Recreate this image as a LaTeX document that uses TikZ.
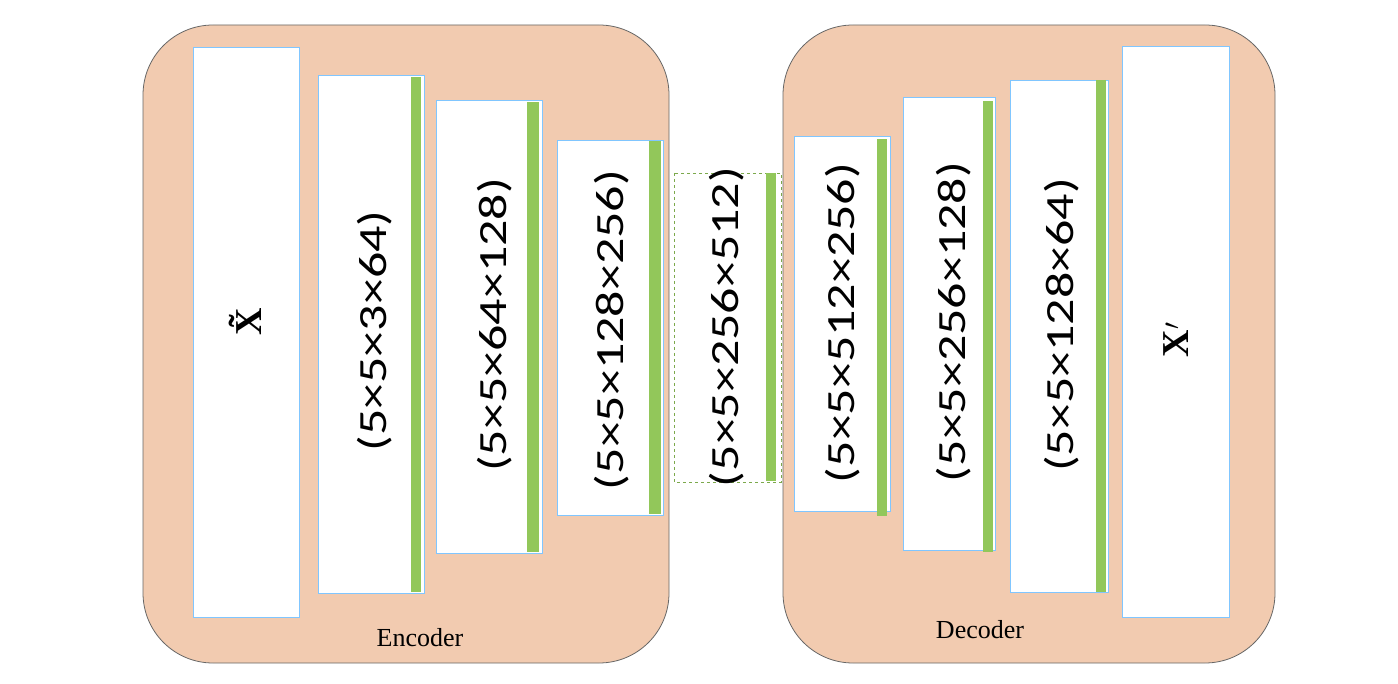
\documentclass[tikz,border=0pt]{standalone}
\usepackage{fontspec}
\setmainfont{Liberation Serif}
\newfontfamily\labfont{Carlito}
\begin{document}
\begin{tikzpicture}[x=1pt,y=-1pt,
  block/.style={draw=gray!80!black,fill=peach,rounded corners=70pt,line width=0.8pt},
  layer/.style={draw=blue!45!cyan!50,fill=white,line width=0.6pt},
  bar/.style={fill=leaf,draw=none},
  lbl/.style={rotate=90,font=\labfont\fontsize{40}{42}\selectfont},
  sym/.style={rotate=90,font=\bfseries\fontsize{38}{40}\selectfont}]
\definecolor{peach}{HTML}{F2CBB0}
\definecolor{leaf}{HTML}{92C75A}
\newcommand\stretchlab[1]{\scalebox{1.3}[1]{#1}}
\useasboundingbox (0,0) rectangle (1398,684);
% encoder / decoder frames
\draw[block] (143,25) rectangle (669,663);
\draw[block] (783,25) rectangle (1275,663);
\node[font=\fontsize{26}{28}\selectfont] (enc) at (420,638) {Encoder};
\node[font=\fontsize{26}{28}\selectfont] (dec) at (980,630) {Decoder};
% encoder layers
\draw[layer] (193,47) rectangle (299,617);
\draw[layer] (318,75) rectangle (424,593);
\fill[bar] (411,77) rectangle (421,592);
\draw[layer] (436,100) rectangle (542,553);
\fill[bar] (527,102) rectangle (539,552);
\draw[layer] (557,140) rectangle (663,515);
\fill[bar] (649,141) rectangle (661,514);
% bottleneck
\draw[leaf!85!black,dashed,line width=0.8pt,fill=white] (674,173) rectangle (781,482);
\fill[bar] (766,173) rectangle (776,481);
% decoder layers
\draw[layer] (794,136) rectangle (890,511);
\fill[bar] (877,139) rectangle (887,516);
\draw[layer] (903,97) rectangle (995,550);
\fill[bar] (983,101) rectangle (993,552);
\draw[layer] (1010,80) rectangle (1108,592);
\fill[bar] (1096,80) rectangle (1106,592);
\draw[layer] (1122,46) rectangle (1229,617);
% labels
\node[sym] (xin) at (245,322) {\~{X}};
\node[lbl] (e1) at (375,331) {\stretchlab{(5×5×3×64)}};
\node[lbl] (e2) at (495,325) {\stretchlab{(5×5×64×128)}};
\node[lbl] (e3) at (612,330) {\stretchlab{(5×5×128×256)}};
\node[lbl] (b) at (727,327) {\stretchlab{(5×5×256×512)}};
\node[lbl] (d1) at (843,323) {\stretchlab{(5×5×512×256)}};
\node[lbl] (d2) at (954,322) {\stretchlab{(5×5×256×128)}};
\node[lbl] (d3) at (1062,325) {\stretchlab{(5×5×128×64)}};
\node[sym] (xout) at (1176,340) {X$'$};
\end{tikzpicture}
\end{document}
